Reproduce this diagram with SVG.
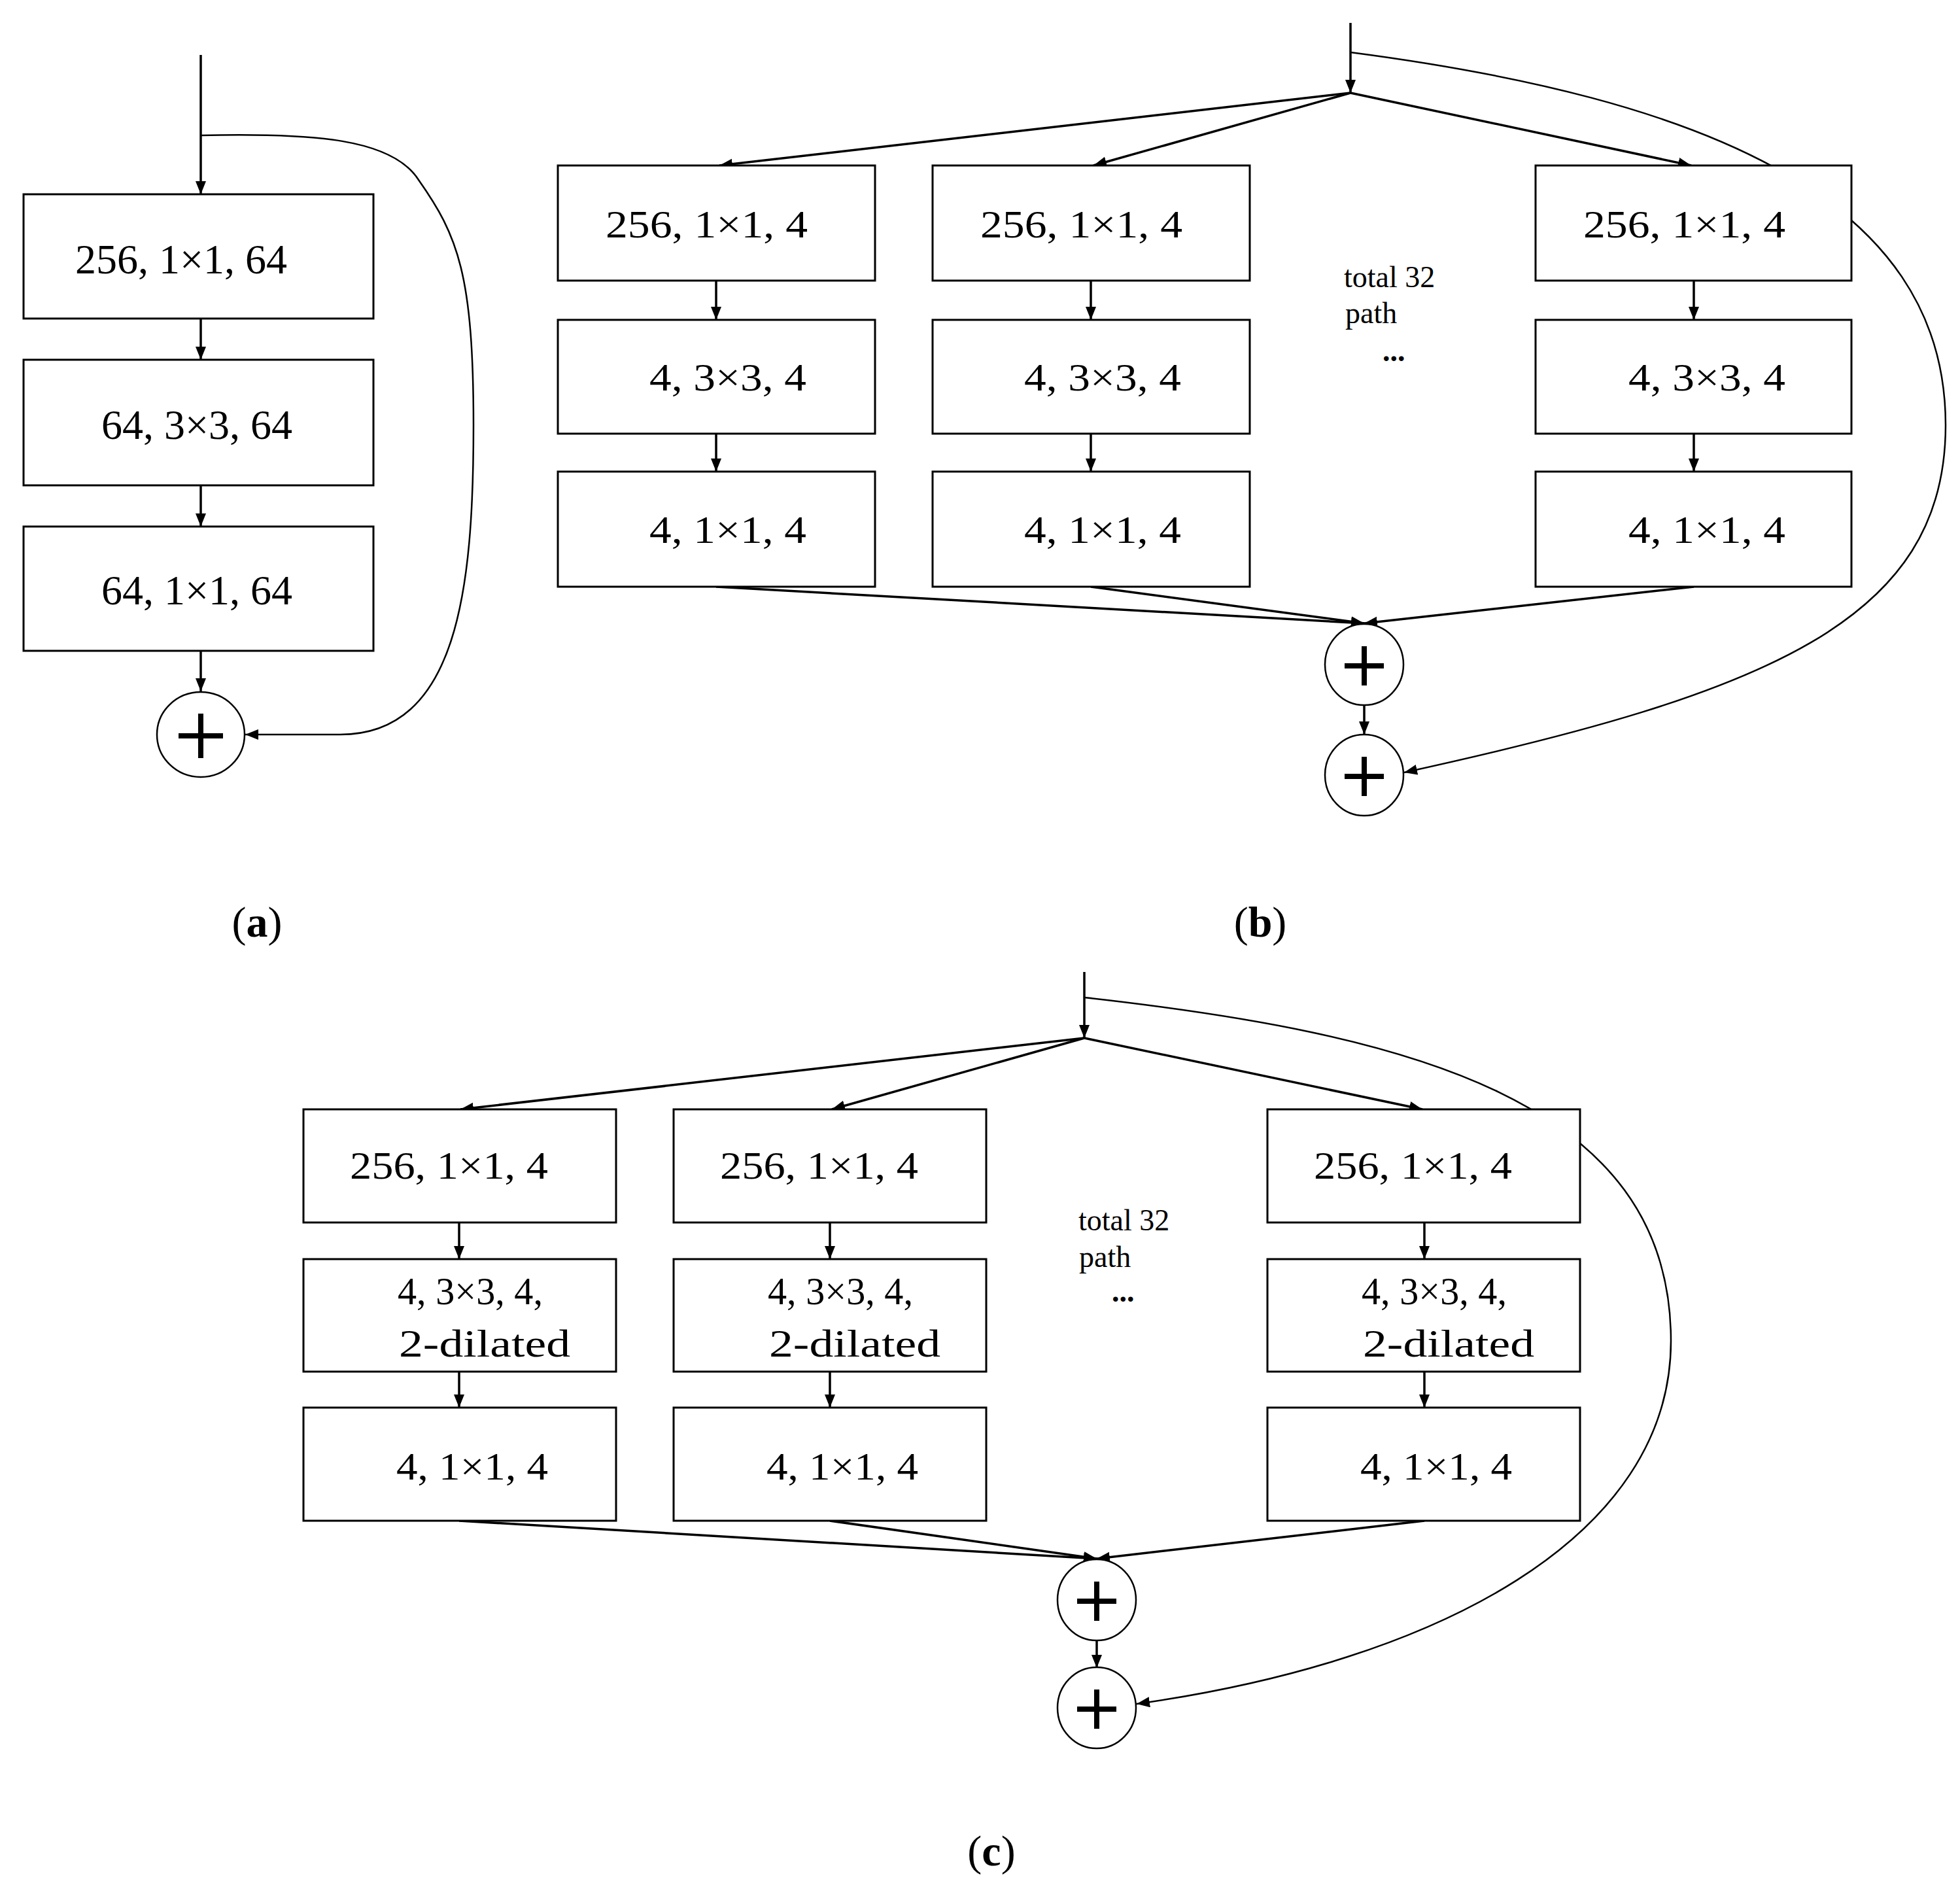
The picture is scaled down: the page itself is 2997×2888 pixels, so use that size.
<svg xmlns="http://www.w3.org/2000/svg" width="2997" height="2888" viewBox="0 0 2997 2888">
<defs>
<marker id="ah" markerUnits="userSpaceOnUse" markerWidth="24" markerHeight="18" refX="20" refY="8" orient="auto"><path d="M0,0 L20,8 L0,16 z" fill="#000"/></marker>
</defs>
<style>
.box{fill:#fff;stroke:#000;stroke-width:3}
.c{fill:#fff;stroke:#000;stroke-width:2.5}
.pl{stroke:#000;stroke-width:8}
.t{font-family:"Liberation Serif",serif;font-size:64px;fill:#000}
.ts{font-family:"Liberation Serif",serif;font-size:60px;fill:#000}
.sm{font-family:"Liberation Serif",serif;font-size:46px;fill:#000}
.lab{font-family:"Liberation Serif",serif;font-size:66px;fill:#000}
.ln{fill:none;stroke:#000;stroke-width:3.5;marker-end:url(#ah)}
.sc{fill:none;stroke:#000;stroke-width:2.5;marker-end:url(#ah)}
.pn{fill:none;stroke:#000;stroke-width:3.5}
</style>
<rect width="2997" height="2888" fill="#fff"/>
<g id="connectors">
<!-- a -->
<path class="ln" d="M307,84 L307,297"/>
<path class="ln" d="M307,487 L307,550"/>
<path class="ln" d="M307,742 L307,805"/>
<path class="ln" d="M307,995 L307,1057"/>
<path class="sc" d="M307,207 C480,203 600,212 640,275 C700,360 724,420 724,650 C724,900 700,1123 520,1123 L375,1123"/>
<!-- b -->
<path class="ln" d="M2065,35 L2065,142"/>
<path class="ln" d="M2065,142 L1100,253"/>
<path class="ln" d="M2065,142 L1672,253"/>
<path class="ln" d="M2065,142 L2586,253"/>
<path class="ln" d="M1095,429 L1095,489"/>
<path class="ln" d="M1095,663 L1095,721"/>
<path class="ln" d="M1668,429 L1668,489"/>
<path class="ln" d="M1668,663 L1668,721"/>
<path class="ln" d="M2590,429 L2590,489"/>
<path class="ln" d="M2590,663 L2590,721"/>
<path class="ln" d="M1095,897 L2086,953"/>
<path class="ln" d="M1668,897 L2086,953"/>
<path class="ln" d="M2590,897 L2086,953"/>
<path class="ln" d="M2086,1078 L2086,1123"/>
<path class="sc" d="M2065,80 C2600,150 2975,300 2975,650 C2975,950 2700,1060 2147,1181"/>
<!-- c -->
<path class="ln" d="M1658,1486 L1658,1587"/>
<path class="ln" d="M1658,1587 L704,1696"/>
<path class="ln" d="M1658,1587 L1272,1696"/>
<path class="ln" d="M1658,1587 L2175,1696"/>
<path class="ln" d="M702,1869 L702,1925"/>
<path class="ln" d="M702,2097 L702,2152"/>
<path class="ln" d="M1269,1869 L1269,1925"/>
<path class="ln" d="M1269,2097 L1269,2152"/>
<path class="ln" d="M2178,1869 L2178,1925"/>
<path class="ln" d="M2178,2097 L2178,2152"/>
<path class="ln" d="M702,2325 L1677,2383"/>
<path class="ln" d="M1269,2325 L1677,2383"/>
<path class="ln" d="M2178,2325 L1677,2383"/>
<path class="ln" d="M1677,2508 L1677,2550"/>
<path class="sc" d="M1658,1525 C2150,1580 2555,1680 2555,2050 C2555,2350 2200,2540 1738,2605"/>
</g>
<!-- (a) -->
<g id="a1"><rect class="box" x="36" y="297" width="535" height="190"/><text class="t" x="115" y="418">256, 1×1, 64</text></g>
<g id="a2"><rect class="box" x="36" y="550" width="535" height="192"/><text class="t" x="155" y="671">64, 3×3, 64</text></g>
<g id="a3"><rect class="box" x="36" y="805" width="535" height="190"/><text class="t" x="155" y="924">64, 1×1, 64</text></g>
<g id="aplus"><ellipse class="c" cx="307" cy="1123" rx="67" ry="65"/><path class="pl" d="M273,1125 H341 M307,1091 V1159"/></g>
<!-- (b) -->
<g id="b11"><rect class="box" x="853" y="253" width="485" height="176"/><text class="ts" x="926" y="363" textLength="309" lengthAdjust="spacingAndGlyphs">256, 1×1, 4</text></g>
<g id="b12"><rect class="box" x="853" y="489" width="485" height="174"/><text class="ts" x="993" y="597" textLength="240" lengthAdjust="spacingAndGlyphs">4, 3×3, 4</text></g>
<g id="b13"><rect class="box" x="853" y="721" width="485" height="176"/><text class="ts" x="993" y="830" textLength="240" lengthAdjust="spacingAndGlyphs">4, 1×1, 4</text></g>
<g id="b21"><rect class="box" x="1426" y="253" width="485" height="176"/><text class="ts" x="1499" y="363" textLength="309" lengthAdjust="spacingAndGlyphs">256, 1×1, 4</text></g>
<g id="b22"><rect class="box" x="1426" y="489" width="485" height="174"/><text class="ts" x="1566" y="597" textLength="240" lengthAdjust="spacingAndGlyphs">4, 3×3, 4</text></g>
<g id="b23"><rect class="box" x="1426" y="721" width="485" height="176"/><text class="ts" x="1566" y="830" textLength="240" lengthAdjust="spacingAndGlyphs">4, 1×1, 4</text></g>
<g id="b31"><rect class="box" x="2348" y="253" width="483" height="176"/><text class="ts" x="2421" y="363" textLength="309" lengthAdjust="spacingAndGlyphs">256, 1×1, 4</text></g>
<g id="b32"><rect class="box" x="2348" y="489" width="483" height="174"/><text class="ts" x="2490" y="597" textLength="240" lengthAdjust="spacingAndGlyphs">4, 3×3, 4</text></g>
<g id="b33"><rect class="box" x="2348" y="721" width="483" height="176"/><text class="ts" x="2490" y="830" textLength="240" lengthAdjust="spacingAndGlyphs">4, 1×1, 4</text></g>
<g id="bnote"><text class="sm" x="2055" y="439">total 32</text><text class="sm" x="2057" y="494">path</text><text class="sm" x="2114" y="552" font-weight="bold">...</text></g>
<g id="bplus1"><ellipse class="c" cx="2086" cy="1016" rx="60" ry="62"/><path class="pl" d="M2056,1018 H2116 M2086,988 V1048"/></g>
<g id="bplus2"><ellipse class="c" cx="2086" cy="1185" rx="60" ry="62"/><path class="pl" d="M2056,1187 H2116 M2086,1157 V1217"/></g>
<!-- (c) -->
<g id="c11"><rect class="box" x="464" y="1696" width="478" height="173"/><text class="ts" x="535" y="1802" textLength="303" lengthAdjust="spacingAndGlyphs">256, 1×1, 4</text></g>
<g id="c12"><rect class="box" x="464" y="1925" width="478" height="172"/><text class="ts" x="608" y="1994" textLength="222" lengthAdjust="spacingAndGlyphs">4, 3×3, 4,</text><text class="ts" x="610" y="2074" textLength="262" lengthAdjust="spacingAndGlyphs">2-dilated</text></g>
<g id="c13"><rect class="box" x="464" y="2152" width="478" height="173"/><text class="ts" x="606" y="2262" textLength="232" lengthAdjust="spacingAndGlyphs">4, 1×1, 4</text></g>
<g id="c21"><rect class="box" x="1030" y="1696" width="478" height="173"/><text class="ts" x="1101" y="1802" textLength="303" lengthAdjust="spacingAndGlyphs">256, 1×1, 4</text></g>
<g id="c22"><rect class="box" x="1030" y="1925" width="478" height="172"/><text class="ts" x="1174" y="1994" textLength="222" lengthAdjust="spacingAndGlyphs">4, 3×3, 4,</text><text class="ts" x="1176" y="2074" textLength="262" lengthAdjust="spacingAndGlyphs">2-dilated</text></g>
<g id="c23"><rect class="box" x="1030" y="2152" width="478" height="173"/><text class="ts" x="1172" y="2262" textLength="232" lengthAdjust="spacingAndGlyphs">4, 1×1, 4</text></g>
<g id="c31"><rect class="box" x="1938" y="1696" width="478" height="173"/><text class="ts" x="2009" y="1802" textLength="303" lengthAdjust="spacingAndGlyphs">256, 1×1, 4</text></g>
<g id="c32"><rect class="box" x="1938" y="1925" width="478" height="172"/><text class="ts" x="2082" y="1994" textLength="222" lengthAdjust="spacingAndGlyphs">4, 3×3, 4,</text><text class="ts" x="2084" y="2074" textLength="262" lengthAdjust="spacingAndGlyphs">2-dilated</text></g>
<g id="c33"><rect class="box" x="1938" y="2152" width="478" height="173"/><text class="ts" x="2080" y="2262" textLength="232" lengthAdjust="spacingAndGlyphs">4, 1×1, 4</text></g>
<g id="cnote"><text class="sm" x="1649" y="1881">total 32</text><text class="sm" x="1650" y="1937">path</text><text class="sm" x="1700" y="1990" font-weight="bold">...</text></g>
<g id="cplus1"><ellipse class="c" cx="1677" cy="2446" rx="60" ry="62"/><path class="pl" d="M1647,2448 H1707 M1677,2418 V2478"/></g>
<g id="cplus2"><ellipse class="c" cx="1677" cy="2611" rx="60" ry="62"/><path class="pl" d="M1647,2613 H1707 M1677,2583 V2643"/></g>
<!-- labels -->
<text class="lab" x="393" y="1432" text-anchor="middle">(<tspan font-weight="bold">a</tspan>)</text>
<text class="lab" x="1927" y="1432" text-anchor="middle">(<tspan font-weight="bold">b</tspan>)</text>
<text class="lab" x="1516" y="2852" text-anchor="middle">(<tspan font-weight="bold">c</tspan>)</text>
</svg>
